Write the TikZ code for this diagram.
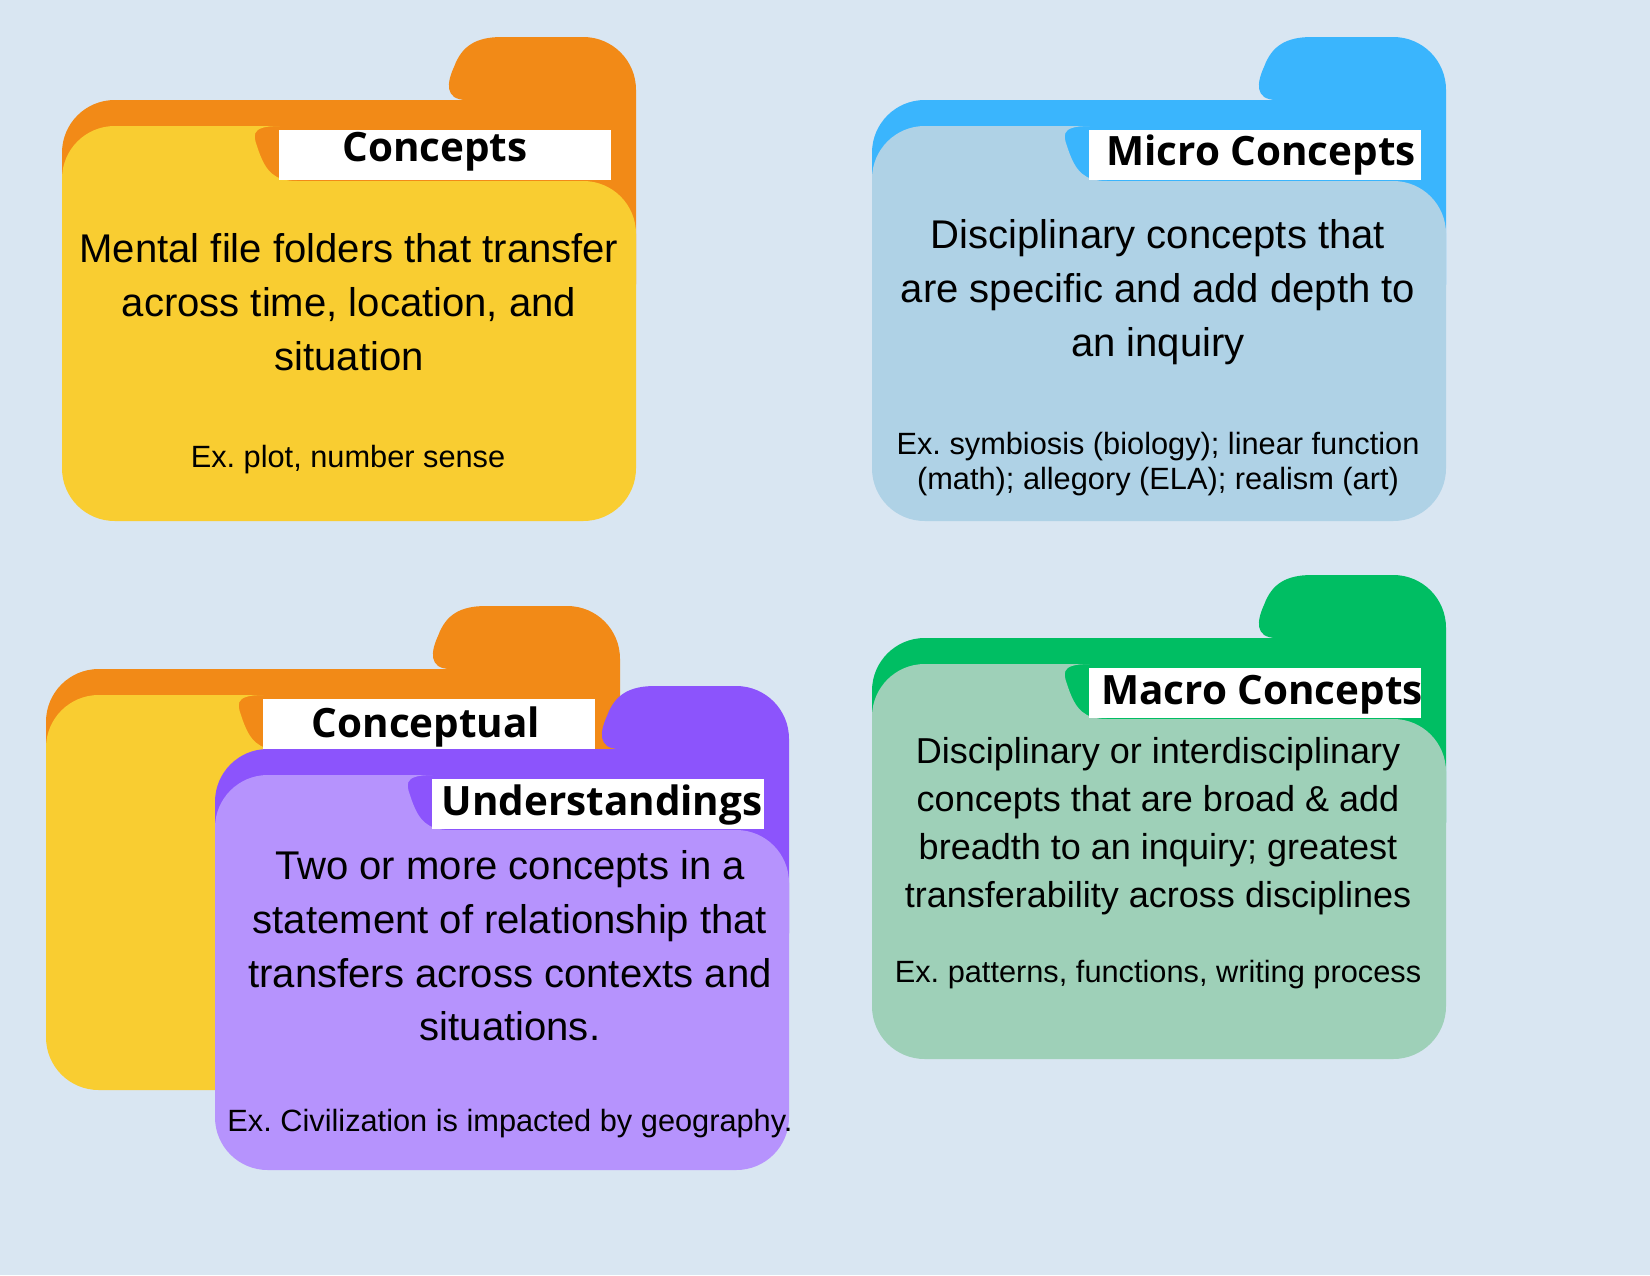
\documentclass[tikz,border=0pt]{standalone}
\usepackage{fontspec}
\setmainfont{Liberation Sans}
\newfontfamily\titlefont{Open Sans}
\usetikzlibrary{positioning}
\frenchspacing

\definecolor{bgblue}{HTML}{D9E6F2}
\definecolor{orangeback}{HTML}{F28A17}
\definecolor{yellowfront}{HTML}{F9CD31}
\definecolor{blueback}{HTML}{3AB5FD}
\definecolor{bluefront}{HTML}{AFD2E6}
\definecolor{greenback}{HTML}{00BE63}
\definecolor{greenfront}{HTML}{9ED0B8}
\definecolor{purpleback}{HTML}{8C54FC}
\definecolor{purplefront}{HTML}{B693FD}

\tikzset{
  maintext/.style={align=center,font=\fontsize{22.8}{30.6}\selectfont},
  smalltext/.style={align=center,font=\fontsize{17.5}{20.4}\selectfont},
  titletext/.style={font=\titlefont\bfseries\fontsize{23}{28}\selectfont}
}

% folder: x, y (top of tab), back colour, front colour
\newcommand{\folder}[4]{%
  \begin{scope}[shift={(#1,#2)}]
    \fill[#3,rounded corners=30] (0,300) -- (0,63) -- (352,63)
      {[rounded corners=0] .. controls (382,63) and (385,45) .. (392,30)
       .. controls (400,8) and (415,0) .. (440,0)} -- (574,0) -- (574,300) -- cycle;
    \fill[#4,rounded corners=30] (0,484) -- (0,89) -- (165,89)
      {[rounded corners=0] .. controls (185,89) and (192,100) .. (197,115)
       .. controls (204,134) and (212,144) .. (235,144)} -- (574,144) -- (574,484) -- cycle;
    \fill[white] (217,93) rectangle (549,143);
  \end{scope}}

\begin{document}
\begin{tikzpicture}[x=0.02cm,y=-0.02cm]
  \useasboundingbox (0,0) rectangle (1650,1275);
  \fill[bgblue] (0,0) rectangle (1650,1275);

  %folders
  \folder{62}{37}{orangeback}{yellowfront}
  \folder{872}{37}{blueback}{bluefront}
  \folder{872}{575}{greenback}{greenfront}
  \folder{46}{606}{orangeback}{yellowfront}
  \folder{215}{686}{purpleback}{purplefront}

  %titles
  \node[titletext] (concepts) at (435,152) {Concepts};
  \node[titletext] (micro) at (1261,155) {Micro Concepts};
  \node[titletext] (macro) at (1262,695) {Macro Concepts};
  \node[titletext] (conceptual) at (426,727) {Conceptual};
  \node[titletext] (understand) at (602,805) {Understandings};

  %texts
  \node[maintext] (conctext) at (349,302)
    {Mental file folders that transfer\\across time, location, and\\situation};
  \node[smalltext] (concex) at (348,460) {Ex. plot, number sense};
  \node[maintext] (microtext) at (1158,292)
    {Disciplinary concepts that\\are specific and add depth to\\an inquiry};
  \node[smalltext] (microex) at (1158,464)
    {Ex. symbiosis (biology); linear function\\(math); allegory (ELA); realism (art)};
  \node[maintext,font=\fontsize{20.5}{27.2}\selectfont] (macrotext) at (1158,826)
    {Disciplinary or interdisciplinary\\concepts that are broad \& add\\breadth to an inquiry; greatest\\transferability across disciplines};
  \node[smalltext] (macroex) at (1158,975) {Ex. patterns, functions, writing process};
  \node[maintext] (undtext) at (510,946)
    {Two or more concepts in a\\statement of relationship that\\transfers across contexts and\\situations.};
  \node[smalltext] (undex) at (510,1124) {Ex. Civilization is impacted by geography.};
\end{tikzpicture}
\end{document}
